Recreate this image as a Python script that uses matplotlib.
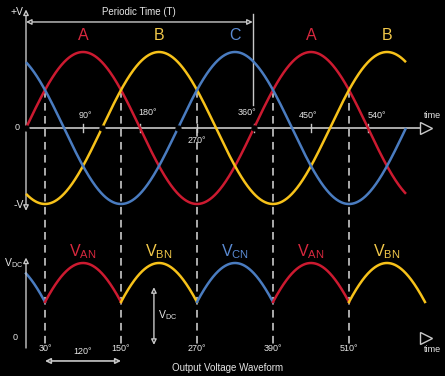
import numpy as np
import matplotlib
matplotlib.use("Agg")
import matplotlib.pyplot as plt

plt.rcParams['font.family'] = ['Liberation Sans', 'DejaVu Sans']
plt.rcParams['mathtext.fontset'] = 'custom'
plt.rcParams['mathtext.rm'] = 'Liberation Sans'

# ---------------- data ----------------
phase_names = ['A', 'B', 'C']
phase_shift_deg = [0, 120, 240]
phase_colors = ['#CC1A30', '#F7C21A', '#4A7CC0']
label_colors = ['#D8283E', '#F2C84A', '#5A8AD2']
angle_start, angle_end = 0, 600
peak_angles = [90, 210, 330, 450, 570]
peak_phase = ['A', 'B', 'C', 'A', 'B']
out_labels = ['AN', 'BN', 'CN', 'AN', 'BN']
dashed_angles = [30, 150, 270, 390, 510]
seg_bounds = [0, 30, 150, 270, 390, 510, 630]
seg_phase = ['C', 'A', 'B', 'C', 'A', 'B']
top_tick_angles = [90, 180, 270, 360, 450, 540]
top_tick_labels = ['90°', '180°', '270°', '360°', '450°', '540°']
zero_dot_angles = [0, 120, 240, 360]
bottom_tick_labels = ['30°', '150°', '270°', '390°', '510°']
period_deg = 358

# ---------------- figure ----------------
W, H = 445, 376
fig = plt.figure(figsize=(W / 100, H / 100), dpi=100, facecolor='black')
split = 232
ax1 = fig.add_axes([0, 1 - split / H, 1, split / H])
ax2 = fig.add_axes([0, 0, 1, 1 - split / H])
px_per_deg = 0.6333
x0 = 26
xlim = (-x0 / px_per_deg, (W - x0) / px_per_deg)
for ax in (ax1, ax2):
    ax.set_facecolor('black')
    ax.set_xlim(*xlim)
    ax.axis('off')
ax1.set_ylim(-(split - 128) / 76, 128 / 76)
ax2.set_ylim(-(H - 341) / 78, (341 - split) / 78)

gray = '#C8C8C8'
txt = '#E6E6E6'
small = 6.5
big = 11.5
lw_wave = 1.8

def sine(th, shift):
    return np.sin(np.radians(th - shift))

# ---------- top panel ----------
th = np.linspace(angle_start, angle_end, 800)
ax1.plot([0, 624], [0, 0], color=gray, lw=1.2, zorder=1)
ax1.plot([631], [0], marker='>', ms=9, mfc='black', mec=gray, mew=1.0, zorder=2)
ax1.text(642, 0.16, 'time', color=txt, fontsize=small, ha='center', va='center')
ax1.annotate('', xy=(0, 1.56), xytext=(0, -1.09),
             arrowprops=dict(arrowstyle='<|-|>', color=gray, fc='black', lw=1.0,
                             mutation_scale=8, shrinkA=0, shrinkB=0))
ax1.text(-3.5, 1.53, '+V', color=txt, fontsize=small + 1, ha='right', va='center')
ax1.text(-14, 0.0, '0', color=txt, fontsize=small, ha='center', va='center')
ax1.text(-3.5, -1.01, '-V', color=txt, fontsize=small + 1, ha='right', va='center')

ax1.annotate('', xy=(period_deg, 1.395), xytext=(0, 1.395),
             arrowprops=dict(arrowstyle='<|-|>', color=gray, fc='black', lw=1.0,
                             mutation_scale=8, shrinkA=0, shrinkB=0))
ax1.plot([period_deg, period_deg], [1.5, 0.30], color=gray, lw=1.0, zorder=1)
ax1.text(178, 1.53, 'Periodic Time (T)', color=txt, fontsize=small + 0.5,
         ha='center', va='center')

for a in dashed_angles:
    ax1.plot([a, a], [0.5, ax1.get_ylim()[0]], color='#DADADA', lw=1.1,
             ls=(0, (5, 3.5)), zorder=1)
    ax2.plot([a, a], [ax2.get_ylim()[1], -0.05], color='#DADADA', lw=1.1,
             ls=(0, (5, 3.5)), zorder=1)

for a in top_tick_angles:
    ax1.plot([a, a], [-0.05, 0.05], color=gray, lw=1.0, zorder=1)

for name, sh, col in zip(phase_names, phase_shift_deg, phase_colors):
    ax1.plot(th, sine(th, sh), color=col, lw=lw_wave, zorder=3, solid_capstyle='butt')

for a in zero_dot_angles:
    ax1.plot([a], [0], 'o', ms=3.5, color='black', zorder=4)

tick_pos = {90: (93, 0.16), 180: (192, 0.21), 270: (270, -0.17),
            360: (349, 0.20), 450: (445, 0.17), 540: (554, 0.17)}
for a, lab in zip(top_tick_angles, top_tick_labels):
    x, y = tick_pos[a]
    ax1.text(x, y, lab, color=txt, fontsize=small, ha='center', va='center', zorder=5)

for a, ph in zip(peak_angles, peak_phase):
    i = phase_names.index(ph)
    ax1.text(a, 1.22, ph, color=label_colors[i], fontsize=big, ha='center', va='center')

# ---------- bottom panel ----------
for (a0, a1), ph in zip(zip(seg_bounds[:-1], seg_bounds[1:]), seg_phase):
    i = phase_names.index(ph)
    t = np.linspace(a0, a1, 200)
    ax2.plot(t, sine(t, phase_shift_deg[i]), color=phase_colors[i], lw=lw_wave, zorder=3)

for a, ph, lab in zip(peak_angles, peak_phase, out_labels):
    i = phase_names.index(ph)
    ax2.text(a, 1.15, r'V$_{\mathregular{' + lab + '}}$', color=label_colors[i],
             fontsize=big, ha='center', va='center')

ax2.annotate('', xy=(0, 1.07), xytext=(0, -0.09),
             arrowprops=dict(arrowstyle='-|>', color=gray, fc='black', lw=1.0,
                             mutation_scale=8, shrinkA=0, shrinkB=0))
ax2.text(-4.5, 1.0, r'V$_{\mathregular{DC}}$', color=txt, fontsize=small + 1,
         ha='right', va='center')
ax2.text(-17, 0.04, '0', color=txt, fontsize=small, ha='center', va='center')

for a, lab in zip(dashed_angles, bottom_tick_labels):
    ax2.text(a, -0.09, lab, color=txt, fontsize=small, ha='center', va='center', zorder=5)

ax2.annotate('', xy=(150, -0.256), xytext=(30, -0.256),
             arrowprops=dict(arrowstyle='<|-|>', color=gray, fc='black', lw=1.2,
                             mutation_scale=8, shrinkA=0, shrinkB=0))
ax2.text(90, -0.14, '120°', color=txt, fontsize=small, ha='center', va='center')

ax2.annotate('', xy=(202, 0.69), xytext=(202, -0.05),
             arrowprops=dict(arrowstyle='<|-|>', color=gray, fc='black', lw=1.0,
                             mutation_scale=8, shrinkA=0, shrinkB=0))
ax2.text(208, 0.33, r'V$_{\mathregular{DC}}$', color=txt, fontsize=small + 1,
         ha='left', va='center')

ax2.plot([631], [0.04], marker='>', ms=9, mfc='black', mec=gray, mew=1.0)
ax2.text(642, -0.115, 'time', color=txt, fontsize=small, ha='center', va='center')

ax2.text(319, -0.346, 'Output Voltage Waveform', color=txt, fontsize=small + 0.5,
         ha='center', va='center')

fig.savefig('out.png', dpi=100, facecolor='black')
